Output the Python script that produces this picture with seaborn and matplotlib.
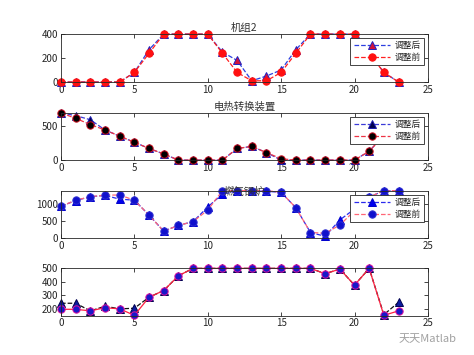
import numpy as np
import pandas as pd
import matplotlib
matplotlib.use("Agg")
import matplotlib.pyplot as plt
import seaborn as sns

hours = list(range(24))

# 机组2
unit2_after = [0, 0, 0, 0, 0, 80, 270, 400, 400, 400, 400, 250, 180, 10, 50, 100, 270, 400, 400, 400, 400, 240, 80, 0]
unit2_before = [0, 0, 0, 0, 0, 80, 240, 400, 400, 400, 400, 240, 80, 10, 10, 80, 240, 400, 400, 400, 400, 240, 80, 0]

# 电热转换装置
eh_after = [690, 650, 590, 440, 350, 260, 170, 90, 0, 0, 0, 0, 170, 200, 110, 0, 0, 0, 0, 0, 0, 130, 360, 500]
eh_before = [690, 610, 520, 440, 350, 260, 170, 90, 0, 0, 0, 0, 170, 200, 110, 20, 0, 0, 0, 0, 0, 130, 360, 500]

# 燃气锅炉
gb_after = [930, 1100, 1210, 1250, 1140, 1110, 670, 200, 370, 480, 910, 1290, 1370, 1380, 1370, 1340, 890, 160, 50, 530, 850, 1200, 1390, 1390]
gb_before = [930, 1110, 1210, 1260, 1260, 1110, 670, 200, 370, 480, 820, 1390, 1390, 1390, 1390, 1340, 890, 160, 140, 380, 800, 1200, 1390, 1390]

# 第四个子图
p4_after = [240, 240, 183, 218, 198, 203, 285, 335, 445, 500, 500, 500, 500, 500, 500, 500, 500, 500, 460, 495, 375, 500, 155, 247]
p4_before = [195, 195, 183, 207, 198, 150, 285, 335, 445, 500, 500, 500, 500, 500, 500, 500, 500, 500, 460, 495, 375, 500, 150, 183]

titles = ["机组2", "电热转换装置", "燃气锅炉", None]
ylims = [(0, 400), (0, 690), (0, 1390), (148, 500)]
yticks = [[0, 200, 400], [0, 500], [0, 500, 1000], [200, 300, 400, 500]]
xticks = [0, 5, 10, 15, 20, 25]
label_after = "调整后"
label_before = "调整前"

sns.set_style("white")
plt.rcParams['font.family'] = ['Noto Sans CJK SC', 'DejaVu Sans']
plt.rcParams['axes.unicode_minus'] = False

fig = plt.figure(figsize=(4.74, 3.55), dpi=100)
positions = [
    [0.1287, 0.769, 0.774, 0.135],
    [0.1287, 0.549, 0.774, 0.133],
    [0.1287, 0.3296, 0.774, 0.1334],
    [0.1287, 0.111, 0.774, 0.133],
]

styles = [
    dict(la="#2b3fe0", fa="#d1133a", ea="#2020c0", lb="#ff2020", fb="#ff1010", eb="#ff1010"),
    dict(la="#3a3ad8", fa="#000050", ea="#1a1ab0", lb="#ee3344", fb="#000000", eb="#cc1020"),
    dict(la="#2a2aee", fa="#0000ee", ea="#0000cc", lb="#ff6677", fb="#1010cc", eb="#3030d0"),
    dict(la="#111111", fa="#0a1aa0", ea="#000050", lb="#ff2040", fb="#1818c8", eb="#e010a0"),
]

data = [(unit2_after, unit2_before), (eh_after, eh_before), (gb_after, gb_before), (p4_after, p4_before)]

for i, (pos, (a, b)) in enumerate(zip(positions, data)):
    ax = fig.add_axes(pos)
    st = styles[i]
    df = pd.DataFrame({"t": hours, "after": a, "before": b})
    ls_b = '--' if i < 3 else '-'
    sns.lineplot(data=df, x="t", y="after", ax=ax, color=st["la"], linestyle='--', lw=0.9,
                 marker='^', markersize=5.5, markerfacecolor=st["fa"], markeredgecolor=st["ea"],
                 markeredgewidth=0.7, label=label_after, clip_on=False)
    sns.lineplot(data=df, x="t", y="before", ax=ax, color=st["lb"], linestyle=ls_b, lw=0.9,
                 marker='o', markersize=5.3, markerfacecolor=st["fb"], markeredgecolor=st["eb"],
                 markeredgewidth=0.7, label=label_before, clip_on=False)
    ax.set_xlim(0, 25)
    ax.set_ylim(*ylims[i])
    ax.set_xticks(xticks)
    ax.set_yticks(yticks[i])
    ax.set_xlabel("")
    ax.set_ylabel("")
    ax.tick_params(direction='in', length=3, width=0.6, labelsize=7, colors='#262626',
                   top=True, right=True, bottom=True, left=True, pad=2)
    for s in ax.spines.values():
        s.set_color('#262626')
        s.set_linewidth(0.6)
    if titles[i]:
        ax.set_title(titles[i], fontsize=7.5, color='#333333', pad=2 if i < 2 else -3)
    if i < 3:
        leg = ax.legend(loc='upper right', fontsize=6.3, frameon=True, fancybox=False,
                        edgecolor='#262626', borderpad=0.35, labelspacing=0.35,
                        handlelength=4.2, handletextpad=0.5, borderaxespad=0.45)
        leg.get_frame().set_linewidth(0.6)
        leg.get_frame().set_alpha(1.0)
        leg.set_zorder(10)
    else:
        if ax.get_legend():
            ax.get_legend().remove()

fig.text(0.84, 0.045, "天天Matlab", fontsize=8, color='#a0a0a0', ha='left', va='center')

fig.savefig("out.png", dpi=100, facecolor='white')
